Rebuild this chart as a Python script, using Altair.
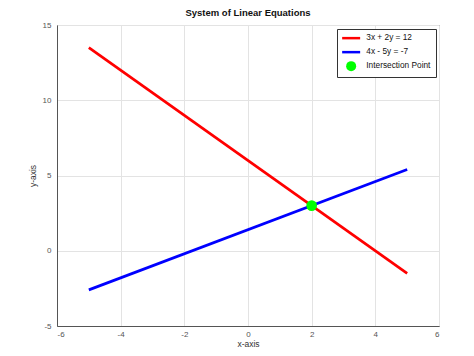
import altair as alt
import pandas as pd

# Data
line_x = [-5, 5]
red_y = [13.5, -1.5]
blue_y = [-2.6, 5.4]
ix = [2]
iy = [3]
labels = ["3x + 2y = 12", "4x - 5y = -7", "Intersection Point"]
colors = ["#ff0000", "#0000ff", "#00ff00"]
x_ticks = [-6, -4, -2, 0, 2, 4, 6]
y_ticks = [-5, 0, 5, 10, 15]

lines = pd.DataFrame({
    "x": line_x + line_x,
    "y": red_y + blue_y,
    "series": [labels[0]] * 2 + [labels[1]] * 2,
})
pt = pd.DataFrame({"x": ix, "y": iy, "series": [labels[2]]})

is_pt = "datum.value == 'Intersection Point'"
legend = alt.Legend(
    title=None, orient="none", legendX=280, legendY=4,
    fillColor="white", strokeColor="#333", padding=5,
    labelFontSize=8.3, labelFont="Liberation Sans", labelColor="#111",
    labelOffset=11, symbolOffset=5, rowPadding=3, symbolLimit=0,
    symbolType=alt.ExprRef(expr=f"{is_pt} ? 'circle' : 'stroke'"),
    symbolSize=alt.ExprRef(expr=f"{is_pt} ? 100 : 324"),
    symbolStrokeWidth=alt.ExprRef(expr=f"{is_pt} ? 0 : 2.5"),
    symbolFillColor=alt.ExprRef(expr=f"{is_pt} ? '#00ff00' : 'transparent'"),
    symbolOpacity=1,
)

xs = alt.Scale(domain=[-6, 6], nice=False, zero=False)
ys = alt.Scale(domain=[-5, 15], nice=False, zero=False)
color = alt.Color("series:N", scale=alt.Scale(domain=labels, range=colors), legend=legend)

xax = alt.Axis(values=x_ticks, title="x-axis", grid=True, tickSize=0,
               labelPadding=4, titlePadding=1, labelExpr="datum.value + ''")
yax = alt.Axis(values=y_ticks, title="y-axis", grid=True, tickSize=0,
               labelPadding=6, titlePadding=5, labelExpr="datum.value + ''")

base_lines = alt.Chart(lines).mark_line(strokeWidth=2.7).encode(
    x=alt.X("x:Q", scale=xs, axis=xax),
    y=alt.Y("y:Q", scale=ys, axis=yax),
    color=color,
    detail="series:N",
)
point = alt.Chart(pt).mark_point(filled=True, size=115, opacity=1, shape="circle").encode(
    x=alt.X("x:Q", scale=xs),
    y=alt.Y("y:Q", scale=ys),
    color=color,
)

chart = alt.layer(base_lines, point).properties(
    width=382, height=301,
    title=alt.TitleParams("System of Linear Equations", fontSize=9.5, fontWeight="bold",
                          font="Liberation Sans", offset=4, color="#111"),
    autosize=alt.AutoSizeParams(type="none"),
    padding={"left": 49, "top": 17, "right": 27, "bottom": 22},
).configure_axis(
    labelFont="Liberation Sans", labelFontSize=8, labelColor="#555",
    titleFont="Liberation Sans", titleFontSize=8.5, titleFontWeight="normal", titleColor="#333",
    gridColor="#e3e3e3", domainColor="#555",
).configure_view(stroke="#555", strokeWidth=1)

chart.save("out.html", embed_options={"renderer": "svg", "actions": False})
